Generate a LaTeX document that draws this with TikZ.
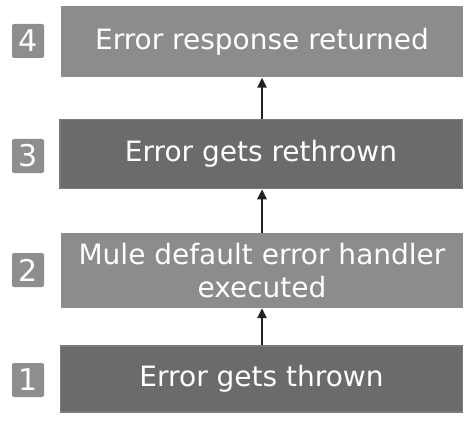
\documentclass[tikz,border=0pt]{standalone}
\usepackage{fontspec}
\setmainfont{DejaVu Sans}
\usetikzlibrary{arrows.meta}
\definecolor{lightbox}{HTML}{8C8C8C}
\definecolor{darkbox}{HTML}{6B6B6B}
\definecolor{darkedge}{HTML}{7A7A7A}
\definecolor{badgecol}{HTML}{8E8E8E}
\definecolor{arrowcol}{HTML}{222222}
\tikzset{
  x=1pt, y=-1pt,
  stepbox/.style={minimum width=402pt, inner sep=0pt, text=white, font=\fontsize{28}{33}\selectfont, align=center, anchor=center},
  lightstep/.style={stepbox, fill=lightbox},
  darkstep/.style={stepbox, fill=darkbox, draw=darkedge, line width=1.5pt},
  badge/.style={fill=badgecol, text=white, minimum width=32pt, minimum height=34pt, inner sep=0pt, font=\fontsize{30}{30}\selectfont,
    rounded corners=2pt},
  conn/.style={draw=arrowcol, line width=2.4pt, -{Triangle[length=10pt,width=9pt]}}
}
\begin{document}
\begin{tikzpicture}
\useasboundingbox (0,0) rectangle (470,422);
\node[lightstep, minimum height=71pt] (s4) at (262,42) {Error response returned};
\node[darkstep, minimum height=69pt] (s3) at (261,154) {Error gets rethrown};
\node[lightstep, minimum height=75pt] (s2) at (262,270.5) {Mule default error handler\\executed};
\node[darkstep, minimum height=66pt] (s1) at (261.5,379) {Error gets thrown};
\node[badge] (b4) at (28,41) {4};
\node[badge] (b3) at (28,156) {3};
\node[badge] (b2) at (28,270) {2};
\node[badge] (b1) at (28,380) {1};
\draw[conn] (s3.north -| 262,0) -- (s4.south -| 262,0);
\draw[conn] (s2.north -| 262,0) -- (s3.south -| 262,0);
\draw[conn] (s1.north -| 262,0) -- (s2.south -| 262,0);
\end{tikzpicture}
\end{document}
